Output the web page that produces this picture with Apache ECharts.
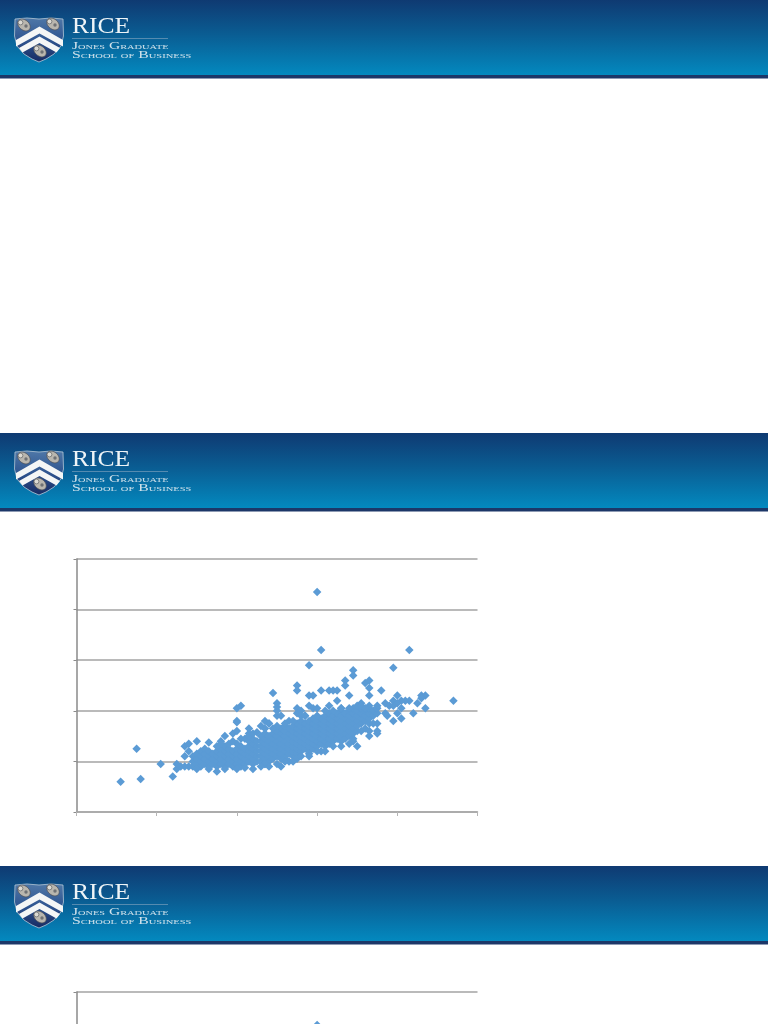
<!DOCTYPE html>
<html><head><meta charset="utf-8">
<style>html,body{margin:0;padding:0;background:#fff;width:768px;height:1024px;overflow:hidden}#c{width:768px;height:1280px;filter:blur(0.45px)}</style>
<script src="https://cdn.jsdelivr.net/npm/echarts@6/dist/echarts.min.js"></script>
</head><body><div id="c"></div>
<script>
// Values (axis has no labels: both axes expressed 0-100)
const axisMax = 100, axisStep = 20;
const cloudX = [29,30,31,32,33,34,35,36,37,38,39,40,41,42,43,44,45,46,47,48,49,50,51,52,53,54,55,56,57,58,59,60,61,62,63,64,65,66,67,68,69,70,71,72,73,74,75];
const cloudY = [
[18,20,22],[19,21,23],[18,20,22,24],[19,21,23,25],[18,20,22,24],[19,21,23],[18,20,22,24],[19,21,23,25],[18,20,22,24,26],[19,21,23,25],
[18,20,22,24],[19,21,23,25,27],[18,20,22,24,26],[19,21,23,25],[20,22,24,26,28],[19,21,23,25,27,29],[20,22,24,26,28],[20,22,24,26,28,30],[19,21,23,25,27,29,31],[20,22,24,26,28,30],
[21,23,25,27,29,31],[22,24,26,28,30,32],[21,23,25,27,29,31,33],[22,24,26,28,30,32,34],[23,25,27,29,31,33],[22,24,26,28,30,32,34],[23,25,27,29,31,33,35],[24,26,28,30,32,34,36],[25,27,29,31,33,35],[24,26,28,30,32,34,36],
[25,27,29,31,33,35,37],[26,28,30,32,34,36],[27,29,31,33,35,37],[26,28,30,32,34,36,38],[27,29,31,33,35,37,39],[28,30,32,34,36,38],[29,31,33,35,37,39],[28,30,32,34,36,38,40],[29,31,33,35,37,39],[30,32,34,36,38,40],
[29,31,33,35,37,39,41],[32,34,36,38,40],[35,37,39,41],[36,38,40],[35,37,39,41],[38,40],[39,41]];
const strayX = [60,61,83,58,79,69,69,67,67,72,73,73,55,55,61,63,64,65,76,49,58,59,68,73,80,86,87,86,50,50,50,50,51,40,41,40,40,94,83,82,81,85,79,77,78,79,80,81,87,84,80,81,77,77.5,79,75,65,63,66,71,73,58,59,60,55,55,56,57,70,69,61,58,55,53,52,51,47,75,75,73,73,75,74,35,24,25,21,16,15,11,25,26,27,28,27,28,30,27,28,33,36,37,39,40,43,43,46,47,48,50,53];
const strayY = [87,64,64,58,57,56,54,52,50,51,52,49,50,48,48,48,48,48,48,47,46,46,46,46,46,46,46,45,43,41.5,40,38,38,41,42,36,35.5,44,44,44,44,43,44,43,42,42,43,41,41,39,39,37,39,38,36,42,44,42,41,43,42,42,41,41,41,39,40,38,26,28,24,23,21,20,21,18,19,32,31,30,32,35,35,16,14,17,19,13,25,12,19,18,18,18,26,27,28,22,24,27.5,28,30,31,32,33,31,34,36,35,34,36];
const fringeX = [35,36,38,39,41,42,43,44,45,47,48,49,52,54,56,57,60,62,64,66,68,70,71,72,30,33,37,40,42,44,46,48,50,52,54,56,58,60,62,64,66,68,71,72];
const fringeY = [26,27,27,28,29,29,30,31,31.5,33,35,33,35,36,38,38,38,40,40,41,41,42,42,41,17,17,17,17,17.5,17,18,18,19,20,20,22,22,24,24,26,26,27,32,33];
const plotTops = [559, 992];
const bannerTops = [0, 433, 866];

const points = [];
cloudX.forEach((x, i) => cloudY[i].forEach(y => points.push([x, y])));
strayX.forEach((x, i) => points.push([x, strayY[i]]));
fringeX.forEach((x, i) => points.push([x, fringeY[i]]));

function banner(t) {
  const grey = '#b9b6ae';
  const owl = (x, y) => [
    {type:'ellipse', shape:{cx:x, cy:y, rx:7, ry:5}, rotation:-0.7, originX:x, originY:y, style:{fill:grey, stroke:'#4f5258', lineWidth:0.7}},
    {type:'circle', shape:{cx:x-3.5, cy:y-2.5, r:2.4}, style:{fill:'#dcdad3', stroke:'#4f5258', lineWidth:0.6}},
    {type:'circle', shape:{cx:x+2, cy:y+1, r:1.7}, style:{fill:'#6f7174'}}
  ];
  return {type:'group', x:0, y:t, children:[
    {type:'rect', shape:{x:0,y:0,width:768,height:75}, style:{fill:{type:'linear',x:0,y:0,x2:0,y2:1,colorStops:[{offset:0,color:'#0f3a72'},{offset:0.45,color:'#0a5c92'},{offset:1,color:'#0389bf'}]}}},
    {type:'rect', shape:{x:0,y:75,width:768,height:3.5}, style:{fill:'#1c3768'}},
    {type:'polygon', shape:{points:[[15,19],[27,18],[39,19],[51,18],[63,19],[63.5,36],[61,46],[54,54],[46,59],[39,62],[32,59],[24,54],[17,46],[14.5,36]]},
      style:{fill:{type:'linear',x:0,y:0,x2:0,y2:1,colorStops:[{offset:0,color:'#4f78a8'},{offset:0.5,color:'#2f5590'},{offset:1,color:'#172a62'}]}, stroke:'#b4c6d6', lineWidth:0.8}},
    ...owl(24,25), ...owl(53,24), ...owl(40,51),
    {type:'polygon', shape:{points:[[39.5,26.5],[63,40],[63,46.5],[39.5,33.5],[16,46.5],[16,40]]}, style:{fill:'#f4f6f6'}},
    {type:'polygon', shape:{points:[[39.5,36.5],[60,48],[56.5,52.5],[39.5,43],[22.5,52.5],[19,48]]}, style:{fill:'#f4f6f6'}},
    {type:'text', x:72, y:15.5, scaleX:1.11, style:{text:'RICE', fill:'#eef4f7', font:'23px "Liberation Serif"', textVerticalAlign:'top'}},
    {type:'rect', shape:{x:72,y:38,width:96,height:0.8}, style:{fill:'#6f9ab8'}},
    {type:'text', x:72, y:41, scaleX:1.48, style:{text:'Jones Graduate', fill:'#d2e3ec', font:'small-caps 10.5px "Liberation Serif"', textVerticalAlign:'top'}},
    {type:'text', x:72, y:50, scaleX:1.5, style:{text:'School of Business', fill:'#d2e3ec', font:'small-caps 10.5px "Liberation Serif"', textVerticalAlign:'top'}}
  ]};
}

const grids = plotTops.map(t => ({left:76.5, width:401, top:t, height:253, containLabel:false}));
const axisColor = '#8a8a8a', gridColor = '#a3a3a3';
const xAxes = plotTops.map((_, i) => ({type:'value', gridIndex:i, min:0, max:axisMax, interval:axisStep,
  axisLabel:{show:false}, splitLine:{show:false},
  axisLine:{show:true, onZero:false, lineStyle:{color:'#a8a8a8', width:1.5}},
  axisTick:{show:true, length:4, lineStyle:{color:'#b5b5b5', width:1}}}));
const yAxes = plotTops.map((_, i) => ({type:'value', gridIndex:i, min:0, max:axisMax, interval:axisStep,
  axisLabel:{show:false},
  splitLine:{show:true, lineStyle:{color:gridColor, width:1.5}},
  axisLine:{show:true, onZero:false, lineStyle:{color:axisColor, width:1.5}},
  axisTick:{show:true, length:3, lineStyle:{color:axisColor, width:1}}}));
const series = plotTops.map((_, i) => ({type:'scatter', xAxisIndex:i, yAxisIndex:i, data:points,
  symbol:'diamond', symbolSize:8.5, itemStyle:{color:'#5b9bd5', opacity:1}, silent:true, animation:false}));

const chart = echarts.init(document.getElementById('c'), null, {renderer:'canvas', width:768, height:1280});
chart.setOption({animation:false, backgroundColor:'#fff', grid:grids, xAxis:xAxes, yAxis:yAxes, series,
  graphic:{elements:bannerTops.map(banner)}});
</script></body></html>
